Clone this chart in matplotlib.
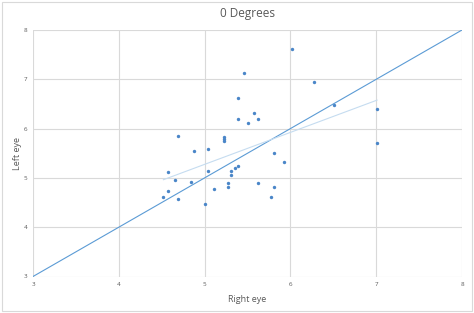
import numpy as np
import matplotlib
matplotlib.use("Agg")
import matplotlib.pyplot as plt
from matplotlib.patches import Rectangle

plt.rcParams['font.family'] = ['Open Sans', 'DejaVu Sans']

right_eye = [6.02, 5.46, 6.28, 5.39, 6.51, 7.01, 5.58, 5.39, 5.62, 5.50,
             4.69, 5.23, 5.23, 5.23, 7.01, 4.88, 5.04, 5.81, 5.93, 4.57,
             5.04, 5.39, 5.35, 5.31, 5.31, 4.65, 4.84, 5.27, 5.62, 5.27,
             5.81, 4.57, 5.11, 4.52, 4.69, 5.77, 5.00]
left_eye = [7.61, 7.13, 6.95, 6.63, 6.47, 6.39, 6.32, 6.20, 6.20, 6.12,
            5.86, 5.82, 5.78, 5.74, 5.70, 5.55, 5.59, 5.51, 5.32, 5.12,
            5.13, 5.24, 5.20, 5.13, 5.05, 4.96, 4.92, 4.89, 4.89, 4.81,
            4.81, 4.73, 4.77, 4.62, 4.57, 4.62, 4.47]
ticks = [3, 4, 5, 6, 7, 8]

rx = np.array(right_eye)
ly = np.array(left_eye)

fig = plt.figure(figsize=(4.74, 3.13), dpi=100)
ax = fig.add_axes([33/474, 1 - 276.5/313, (462 - 33)/474, (276.5 - 30)/313])

# outer chart border
fig.patches.append(Rectangle((0.004, 0.006), 0.992, 0.988, transform=fig.transFigure,
                             fill=False, edgecolor='#d9d9d9', linewidth=0.8))

ax.set_xlim(3, 8)
ax.set_ylim(3, 8)
ax.set_xticks(ticks)
ax.set_yticks(ticks)
ax.grid(True, color='#d9d9d9', linewidth=0.8)
ax.set_axisbelow(True)
for s in ax.spines.values():
    s.set_visible(False)
ax.tick_params(length=0, labelsize=4.5, colors='#595959', pad=4)

# y = x reference line
ax.plot([3, 8], [3, 8], color='#5b9bd5', linewidth=0.8, zorder=2)

# linear trendline
m, b = np.polyfit(rx, ly, 1)
tx = np.array([rx.min(), rx.max()])
ax.plot(tx, m * tx + b, color='#c5dcf0', linewidth=0.8, zorder=2)

ax.scatter(rx, ly, s=6, color='#4a86c8', zorder=3, linewidths=0)

ax.set_title('0 Degrees', fontsize=8.5, color='#595959', pad=9)
ax.set_xlabel('Right eye', fontsize=6.5, color='#595959', labelpad=6)
ax.set_ylabel('Left eye', fontsize=6.5, color='#595959', labelpad=1)

fig.savefig('out.png', dpi=100)
